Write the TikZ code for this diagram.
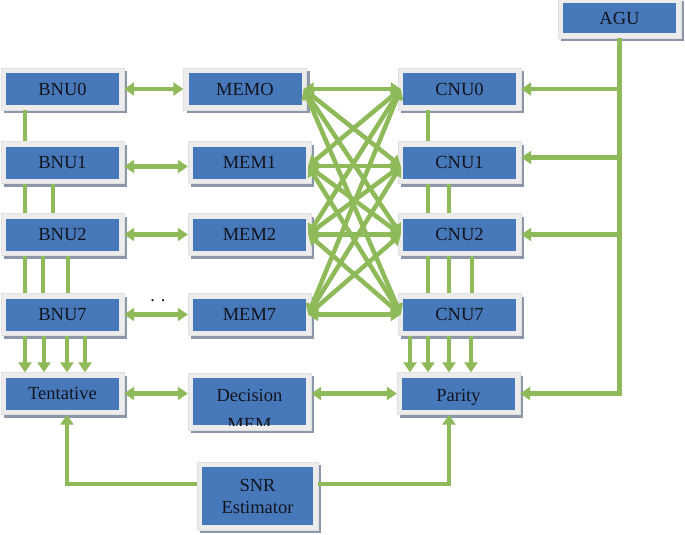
\documentclass[tikz,border=0pt]{standalone}
\usepackage{fontspec}
\setmainfont{Liberation Serif}
\usetikzlibrary{arrows.meta,shadows}
\definecolor{gline}{RGB}{142,186,90}
\definecolor{boxblue}{RGB}{70,120,186}
\definecolor{framec}{RGB}{236,236,236}
\definecolor{shadowc}{RGB}{140,152,170}
\definecolor{txtc}{RGB}{20,20,30}
\begin{document}
\begin{tikzpicture}[x=1pt,y=-1pt,
  box/.style={fill=framec, draw=black!12, line width=0.4pt,
    minimum width=123pt, minimum height=42pt, inner sep=0pt,
    text=txtc, font=\fontsize{18.5}{22}\selectfont, align=center,
    drop shadow={shadow xshift=3pt, shadow yshift=-3pt, fill=shadowc, opacity=1},
    path picture={\fill[boxblue] ([shift={(5pt,5pt)}]path picture bounding box.south west) rectangle ([shift={(-5pt,-5pt)}]path picture bounding box.north east);}},
  txt/.style={text=txtc, font=\fontsize{18.5}{22}\selectfont, inner sep=0pt},
  gl/.style={draw=gline, line width=4.5pt},
  ar/.style={gl, -{Triangle[length=10pt,width=13pt]}},
  dar/.style={gl, {Triangle[length=10pt,width=13pt]}-{Triangle[length=10pt,width=13pt]}}]
\useasboundingbox (0,0) rectangle (685,535);

% boxes
\node[box] (bnu0) at (62.5,89) {BNU0};
\node[box] (bnu1) at (62.5,162.5) {BNU1};
\node[box] (bnu2) at (62.5,234.5) {BNU2};
\node[box] (bnu7) at (62.5,314.5) {BNU7};
\node[box] (tent) at (62.5,393.5) {Tentative};
\node[box] (mem0) at (245,89) {MEMO};
\node[box] (mem1) at (249.5,162.5) {MEM1};
\node[box] (mem2) at (249.5,234.5) {MEM2};
\node[box] (mem7) at (249.5,314.5) {MEM7};
\node[box, minimum height=57pt] (dec) at (249.5,401.5) {};
\node[box] (cnu0) at (459.5,89) {CNU0};
\node[box] (cnu1) at (459.5,162.5) {CNU1};
\node[box] (cnu2) at (459.5,234.5) {CNU2};
\node[box] (cnu7) at (459.5,314.5) {CNU7};
\node[box] (par) at (458.5,393.5) {};
\node[box, minimum height=40pt] (agu) at (619.5,18) {AGU};
\node[box, minimum width=121pt, minimum height=68pt] (snr) at (257.5,496) {SNR\\Estimator};

% clipped texts
\begin{scope}
  \clip (193,378) rectangle (306,425);
  \node[txt, anchor=base] (dect1) at (249.5,401.5) {Decision};
  \node[txt, anchor=base] (dect2) at (249.5,430) {MEM};
\end{scope}
\begin{scope}
  \clip (402,378) rectangle (515,404);
  \node[txt, anchor=base] (part) at (458.5,401) {Parity};
\end{scope}
\node[txt, anchor=base] (dots) at (158,301) {.\hspace{6pt}.};

% BNU <-> MEM
\draw[dar] (bnu0.east) -- (mem0.west);
\coordinate (b1e) at ([yshift=-4pt]bnu1.east);
\draw[dar] (b1e) -- (b1e -| mem1.west);
\draw[dar] (bnu2.east) -- (mem2.west);
\draw[dar] (bnu7.east) -- (mem7.west);

% crossbar
\coordinate (m0) at ([xshift=-3pt]mem0.east);
\coordinate (m1) at ([xshift=-3pt,yshift=-3.5pt]mem1.east);
\coordinate (m2) at ([xshift=-3pt]mem2.east);
\coordinate (m7) at ([xshift=-3pt]mem7.east);
\coordinate (c0) at ([xshift=3pt]cnu0.west);
\coordinate (c1) at ([xshift=3pt,yshift=-3.5pt]cnu1.west);
\coordinate (c2) at ([xshift=3pt]cnu2.west);
\coordinate (c7) at ([xshift=3pt]cnu7.west);
\foreach \m in {m0,m1,m2,m7}{
  \foreach \c in {c0,c1,c2,c7}{
    \draw[dar] (\m) -- (\c);
  }
}

% BNU vertical links
\foreach \o in {-37.5}{\draw[gl] ([xshift=\o pt]bnu0.south) -- ([xshift=\o pt]bnu1.north);}
\foreach \o in {-37.5,-9.5}{\draw[gl] ([xshift=\o pt]bnu1.south) -- ([xshift=\o pt]bnu2.north);}
\foreach \o in {-37.5,-19.5,5.5}{\draw[gl] ([xshift=\o pt]bnu2.south) -- ([xshift=\o pt]bnu7.north);}
\foreach \o in {-37.5,-18.5,4.5,22.5}{\draw[ar] ([xshift=\o pt]bnu7.south) -- ([xshift=\o pt]tent.north);}

% CNU vertical links
\foreach \o in {-31.5}{\draw[gl] ([xshift=\o pt]cnu0.south) -- ([xshift=\o pt]cnu1.north);}
\foreach \o in {-31.5,-10.5}{\draw[gl] ([xshift=\o pt]cnu1.south) -- ([xshift=\o pt]cnu2.north);}
\foreach \o in {-31.5,-10.5,12.5}{\draw[gl] ([xshift=\o pt]cnu2.south) -- ([xshift=\o pt]cnu7.north);}
\foreach \o in {-49.5,-31.5,-10.5,11.5}{\draw[ar] ([xshift=\o pt]cnu7.south) coordinate (t) -- (t |- par.north);}

% AGU bus
\draw[ar] (agu.south) |- (par.east);
\draw[ar] (agu.south |- cnu0.east) -- (cnu0.east);
\coordinate (c1e) at ([yshift=5pt]cnu1.east);
\draw[ar] (c1e -| agu.south) -- (c1e);
\draw[ar] (agu.south |- cnu2.east) -- (cnu2.east);

% bottom row
\draw[dar] (tent.east) -- (tent.east -| dec.west);
\draw[dar] (dec.east |- par.west) -- (par.west);

% SNR
\coordinate (sl) at ([yshift=12pt]snr.west);
\draw[ar] (sl) -| ([xshift=4.5pt]tent.south);
\coordinate (sr) at ([yshift=12pt]snr.east);
\draw[ar] (sr) -| ([xshift=-9.5pt]par.south);
\end{tikzpicture}
\end{document}
